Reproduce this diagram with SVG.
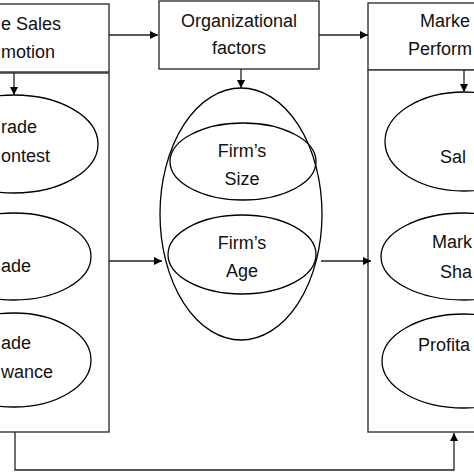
<svg xmlns="http://www.w3.org/2000/svg" width="474" height="474" viewBox="0 0 474 474">
<defs>
<marker id="ah" viewBox="0 0 10 10" refX="10" refY="5" markerWidth="8" markerHeight="8" markerUnits="userSpaceOnUse" orient="auto">
<path d="M0,0 L10,5 L0,10 z" fill="#000"/>
</marker>
<style>
.box{fill:#fff;stroke:#333;stroke-width:1.4}
.ell{fill:none;stroke:#000;stroke-width:1.3}
.t{font-family:"Liberation Sans","Open Sans",Arial,sans-serif;font-size:18px;fill:#111}
.c{text-anchor:middle}
.e{text-anchor:end}
.con{fill:none;stroke:#222;stroke-width:1.3}
</style>
</defs>
<rect width="474" height="474" fill="#fff"/>
<g id="sales-promotion">
<rect class="box" x="-60" y="4" width="169" height="68"/>
<text class="t" x="1" y="30">e Sales</text>
<text class="t" x="1" y="58">motion</text>
</g>
<g id="promotion-group">
<rect class="box" x="-60" y="73" width="169" height="359"/>
</g>
<g id="trade-contest">
<ellipse class="ell" cx="14" cy="144" rx="84" ry="49"/>
<text class="t" x="1" y="133">rade</text>
<text class="t" x="1" y="162">ontest</text>
</g>
<g id="trade">
<ellipse class="ell" cx="14" cy="256.5" rx="77" ry="43.5"/>
<text class="t" x="1" y="272">ade</text>
</g>
<g id="trade-allowance">
<ellipse class="ell" cx="14" cy="360" rx="77" ry="47"/>
<text class="t" x="1" y="349">ade</text>
<text class="t" x="1" y="378">wance</text>
</g>
<g id="organizational-factors">
<rect class="box" x="159" y="1" width="160" height="68"/>
<text class="t c" x="239" y="27">Organizational</text>
<text class="t c" x="239" y="54">factors</text>
</g>
<g id="org-oval">
<ellipse class="ell" cx="241" cy="214" rx="81" ry="126"/>
</g>
<g id="firm-size">
<ellipse class="ell" cx="243" cy="161.5" rx="73" ry="38.5"/>
<text class="t c" x="242" y="157">Firm’s</text>
<text class="t c" x="242" y="185">Size</text>
</g>
<g id="firm-age">
<ellipse class="ell" cx="242" cy="254.5" rx="74" ry="39.5"/>
<text class="t c" x="242" y="249">Firm’s</text>
<text class="t c" x="242" y="277">Age</text>
</g>
<g id="market-performance">
<rect class="box" x="368" y="3" width="170" height="67"/>
<text class="t" x="420" y="27">Marke</text>
<text class="t" x="408" y="55">Perform</text>
</g>
<g id="performance-group">
<rect class="box" x="368" y="70" width="170" height="362"/>
</g>
<g id="sales">
<ellipse class="ell" cx="464" cy="141.5" rx="79" ry="49.5"/>
<text class="t" x="440" y="163">Sal</text>
</g>
<g id="market-share">
<ellipse class="ell" cx="464" cy="256.5" rx="83" ry="43.5"/>
<text class="t" x="432" y="248">Mark</text>
<text class="t" x="440" y="278">Sha</text>
</g>
<g id="profitability">
<ellipse class="ell" cx="464" cy="361" rx="82" ry="47"/>
<text class="t" x="418" y="351">Profita</text>
</g>
<g id="connectors">
<line class="con" x1="109" y1="35" x2="158" y2="35" marker-end="url(#ah)"/>
<line class="con" x1="319" y1="35" x2="368" y2="35" marker-end="url(#ah)"/>
<line class="con" x1="14" y1="73" x2="14" y2="95" marker-end="url(#ah)"/>
<line class="con" x1="241" y1="69" x2="241" y2="88" marker-end="url(#ah)"/>
<line class="con" x1="464" y1="70" x2="464" y2="92" marker-end="url(#ah)"/>
<line class="con" x1="109" y1="261" x2="162" y2="261" marker-end="url(#ah)"/>
<line class="con" x1="321" y1="261" x2="371" y2="261" marker-end="url(#ah)"/>
<polyline class="con" points="15,432 15,470 454,470 454,433" marker-end="url(#ah)"/>
</g>
</svg>
